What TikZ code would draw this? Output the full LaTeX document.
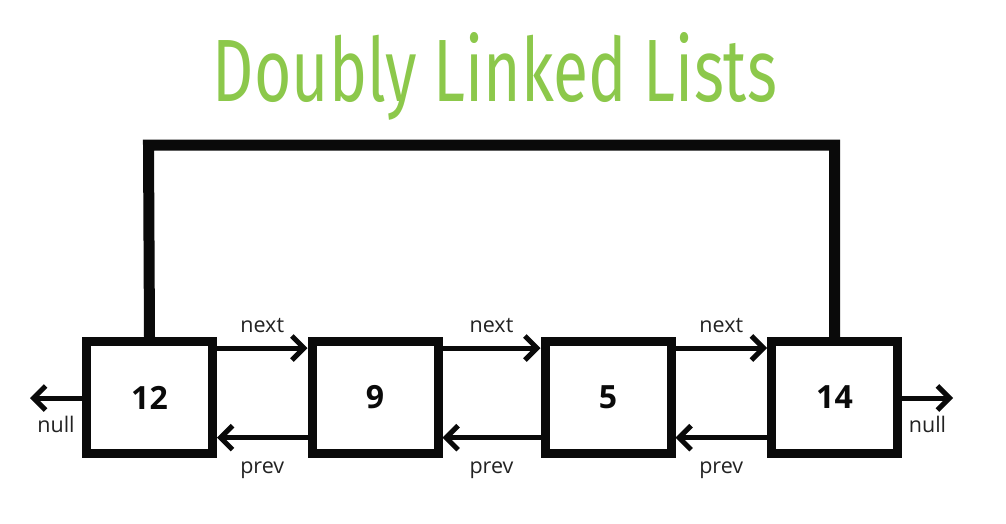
\documentclass[tikz,border=0pt]{standalone}
\usepackage{fontspec}
\setmainfont{Open Sans}
\newfontfamily\titlefont{Fira Sans}
\usetikzlibrary{arrows.meta,calc}
\definecolor{titlegreen}{RGB}{140,200,75}
\definecolor{ink}{RGB}{10,10,10}
\tikzset{
  listbox/.style={draw=ink, line width=9pt, minimum width=126pt, minimum height=112pt, inner sep=0pt,
    font=\fontsize{32}{36}\selectfont\bfseries, text=ink},
  ptr/.style={draw=ink, line width=5pt, -{Straight Barb[length=12pt,width=24pt,line width=5pt]}},
  lbl/.style={font=\fontsize{21.5}{24}\selectfont, text=ink!90, anchor=base, inner sep=0pt},
  frame/.style={draw=ink, line width=11pt, line join=miter}
}
\begin{document}
\begin{tikzpicture}[x=1pt,y=-1pt]
\useasboundingbox (0,0) rectangle (1006,523);
\node[anchor=base, inner sep=0pt, text=titlegreen] (title) at (495,101)
  {\resizebox{564pt}{69pt}{\titlefont Doubly Linked Lists}};
\node[listbox] (b1) at (149.5,397.5) {12};
\node[listbox] (b2) at (375,397.5) {9};
\node[listbox] (b3) at (608,397.5) {5};
\node[listbox] (b4) at (834.5,397.5) {14};
\coordinate (nl) at (30,398);
\coordinate (nr) at (953,398);
\coordinate (tl) at (148.5,145);
% top bracket
\draw[frame] (b1.north) -- (tl) -| (b4.north);
% next arrows
\foreach \a/\b in {b1/b2,b2/b3,b3/b4}{
  \draw[ptr] ($(\a.east)+(0,-49.5)$) -- node[lbl, midway, yshift=16pt]{next} ($(\b.west)+(0,-49.5)$);
  \draw[ptr] ($(\b.west)+(0,40.2)$) -- node[lbl, midway, yshift=-36pt]{prev} ($(\a.east)+(0,40.2)$);
}
% null arrows
\draw[ptr] (b1.west |- nl) -- node[lbl, midway, yshift=-34pt]{null} (nl);
\draw[ptr] (b4.east |- nr) -- node[lbl, midway, yshift=-34pt]{null} (nr);
\end{tikzpicture}
\end{document}
